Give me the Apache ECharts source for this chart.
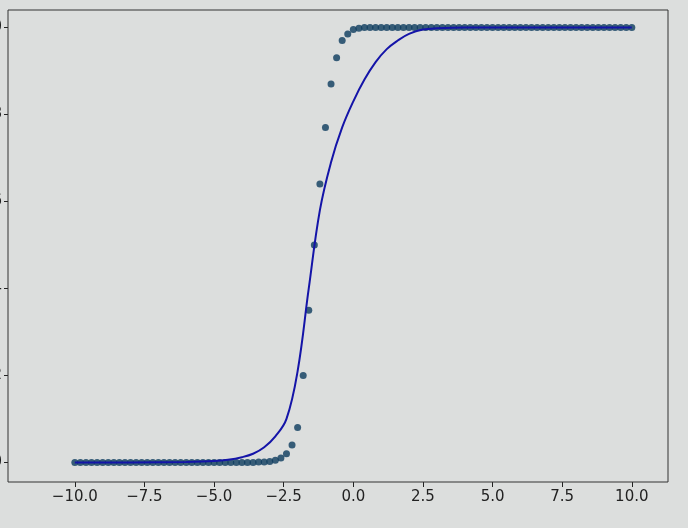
<!DOCTYPE html>
<html><head><meta charset="utf-8">
<script src="https://cdn.jsdelivr.net/npm/echarts@6/dist/echarts.min.js"></script>
<style>html,body{margin:0;background:#dcdedd}#c{width:688px;height:528px}</style>
</head><body><div id="c"></div>
<script>
const xTicks=[-10,-7.5,-5,-2.5,0,2.5,5,7.5,10];
const yTicks=[0,0.2,0.4,0.6,0.8,1.0];
const dotX=[-10,-9.8,-9.6,-9.4,-9.2,-9,-8.8,-8.6,-8.4,-8.2,-8,-7.8,-7.6,-7.4,-7.2,-7,-6.8,-6.6,-6.4,-6.2,-6,-5.8,-5.6,-5.4,-5.2,-5,-4.8,-4.6,-4.4,-4.2,-4,-3.8,-3.6,-3.4,-3.2,-3,-2.8,-2.6,-2.4,-2.2,-2,-1.8,-1.6,-1.4,-1.2,-1,-0.8,-0.6,-0.4,-0.2,0,0.2,0.4,0.6,0.8,1,1.2,1.4,1.6,1.8,2,2.2,2.4,2.6,2.8,3,3.2,3.4,3.6,3.8,4,4.2,4.4,4.6,4.8,5,5.2,5.4,5.6,5.8,6,6.2,6.4,6.6,6.8,7,7.2,7.4,7.6,7.8,8,8.2,8.4,8.6,8.8,9,9.2,9.4,9.6,9.8,10];
const dotY=[0,0,0,0,0,0,0,0,0,0,0,0,0,0,0,0,0,0,0,0,0,0,0,0,0,0,0,0,0,0,0,0,0,0.001,0.001,0.002,0.005,0.01,0.02,0.04,0.08,0.2,0.35,0.5,0.64,0.77,0.87,0.93,0.97,0.985,0.995,0.998,1,1,1,1,1,1,1,1,1,1,1,1,1,1,1,1,1,1,1,1,1,1,1,1,1,1,1,1,1,1,1,1,1,1,1,1,1,1,1,1,1,1,1,1,1,1,1,1,1];
const lineX=[-10,-8,-6,-5,-4.5,-4,-3.6,-3.2,-2.8,-2.4,-2,-1.6,-1.2,-0.8,-0.4,0,0.4,0.8,1.2,1.6,2,2.5,3,4,6,8,10];
const lineY=[0,0,0.001,0.003,0.006,0.012,0.02,0.035,0.06,0.1,0.21,0.4,0.58,0.69,0.77,0.83,0.88,0.92,0.95,0.97,0.985,0.995,0.998,1,1,1,1];
const chart=echarts.init(document.getElementById('c'));
chart.setOption({
 backgroundColor:'#dcdedd',
 grid:{left:8,right:20,top:10,bottom:46,containLabel:false,outerBoundsMode:'none'},
 xAxis:{type:'value',min:-12.4,max:11.3,splitLine:{show:false},
  axisLine:{show:false,onZero:false},
  axisTick:{customValues:xTicks,length:5,lineStyle:{color:'#222'}},
  axisLabel:{customValues:xTicks,color:'#222',fontSize:15,fontFamily:'DejaVu Sans',formatter:v=>v.toFixed(1).replace('-','−')}},
 yAxis:{type:'value',min:-0.045,max:1.04,splitLine:{show:false},axisLine:{show:false,onZero:false},
  axisTick:{customValues:yTicks,length:4,lineStyle:{color:'#222'}},
  axisLabel:{customValues:yTicks,color:'#222',fontSize:15,margin:6,fontFamily:'DejaVu Sans',formatter:v=>v.toFixed(1)}},
 series:[
  {type:'line',data:lineX.map((x,i)=>[x,lineY[i]]),smooth:0.4,showSymbol:false,lineStyle:{color:'#1414a8',width:2}},
  {type:'scatter',data:dotX.map((x,i)=>[x,dotY[i]]),symbolSize:7,itemStyle:{color:'#0d3b5e'}},
  {type:'line',data:[],markArea:{silent:true,itemStyle:{color:'rgba(0,0,0,0)',borderColor:'#333',borderWidth:1},data:[[{coord:[-12.4,-0.045]},{coord:[11.3,1.04]}]]}}
 ]
});
</script></body></html>
